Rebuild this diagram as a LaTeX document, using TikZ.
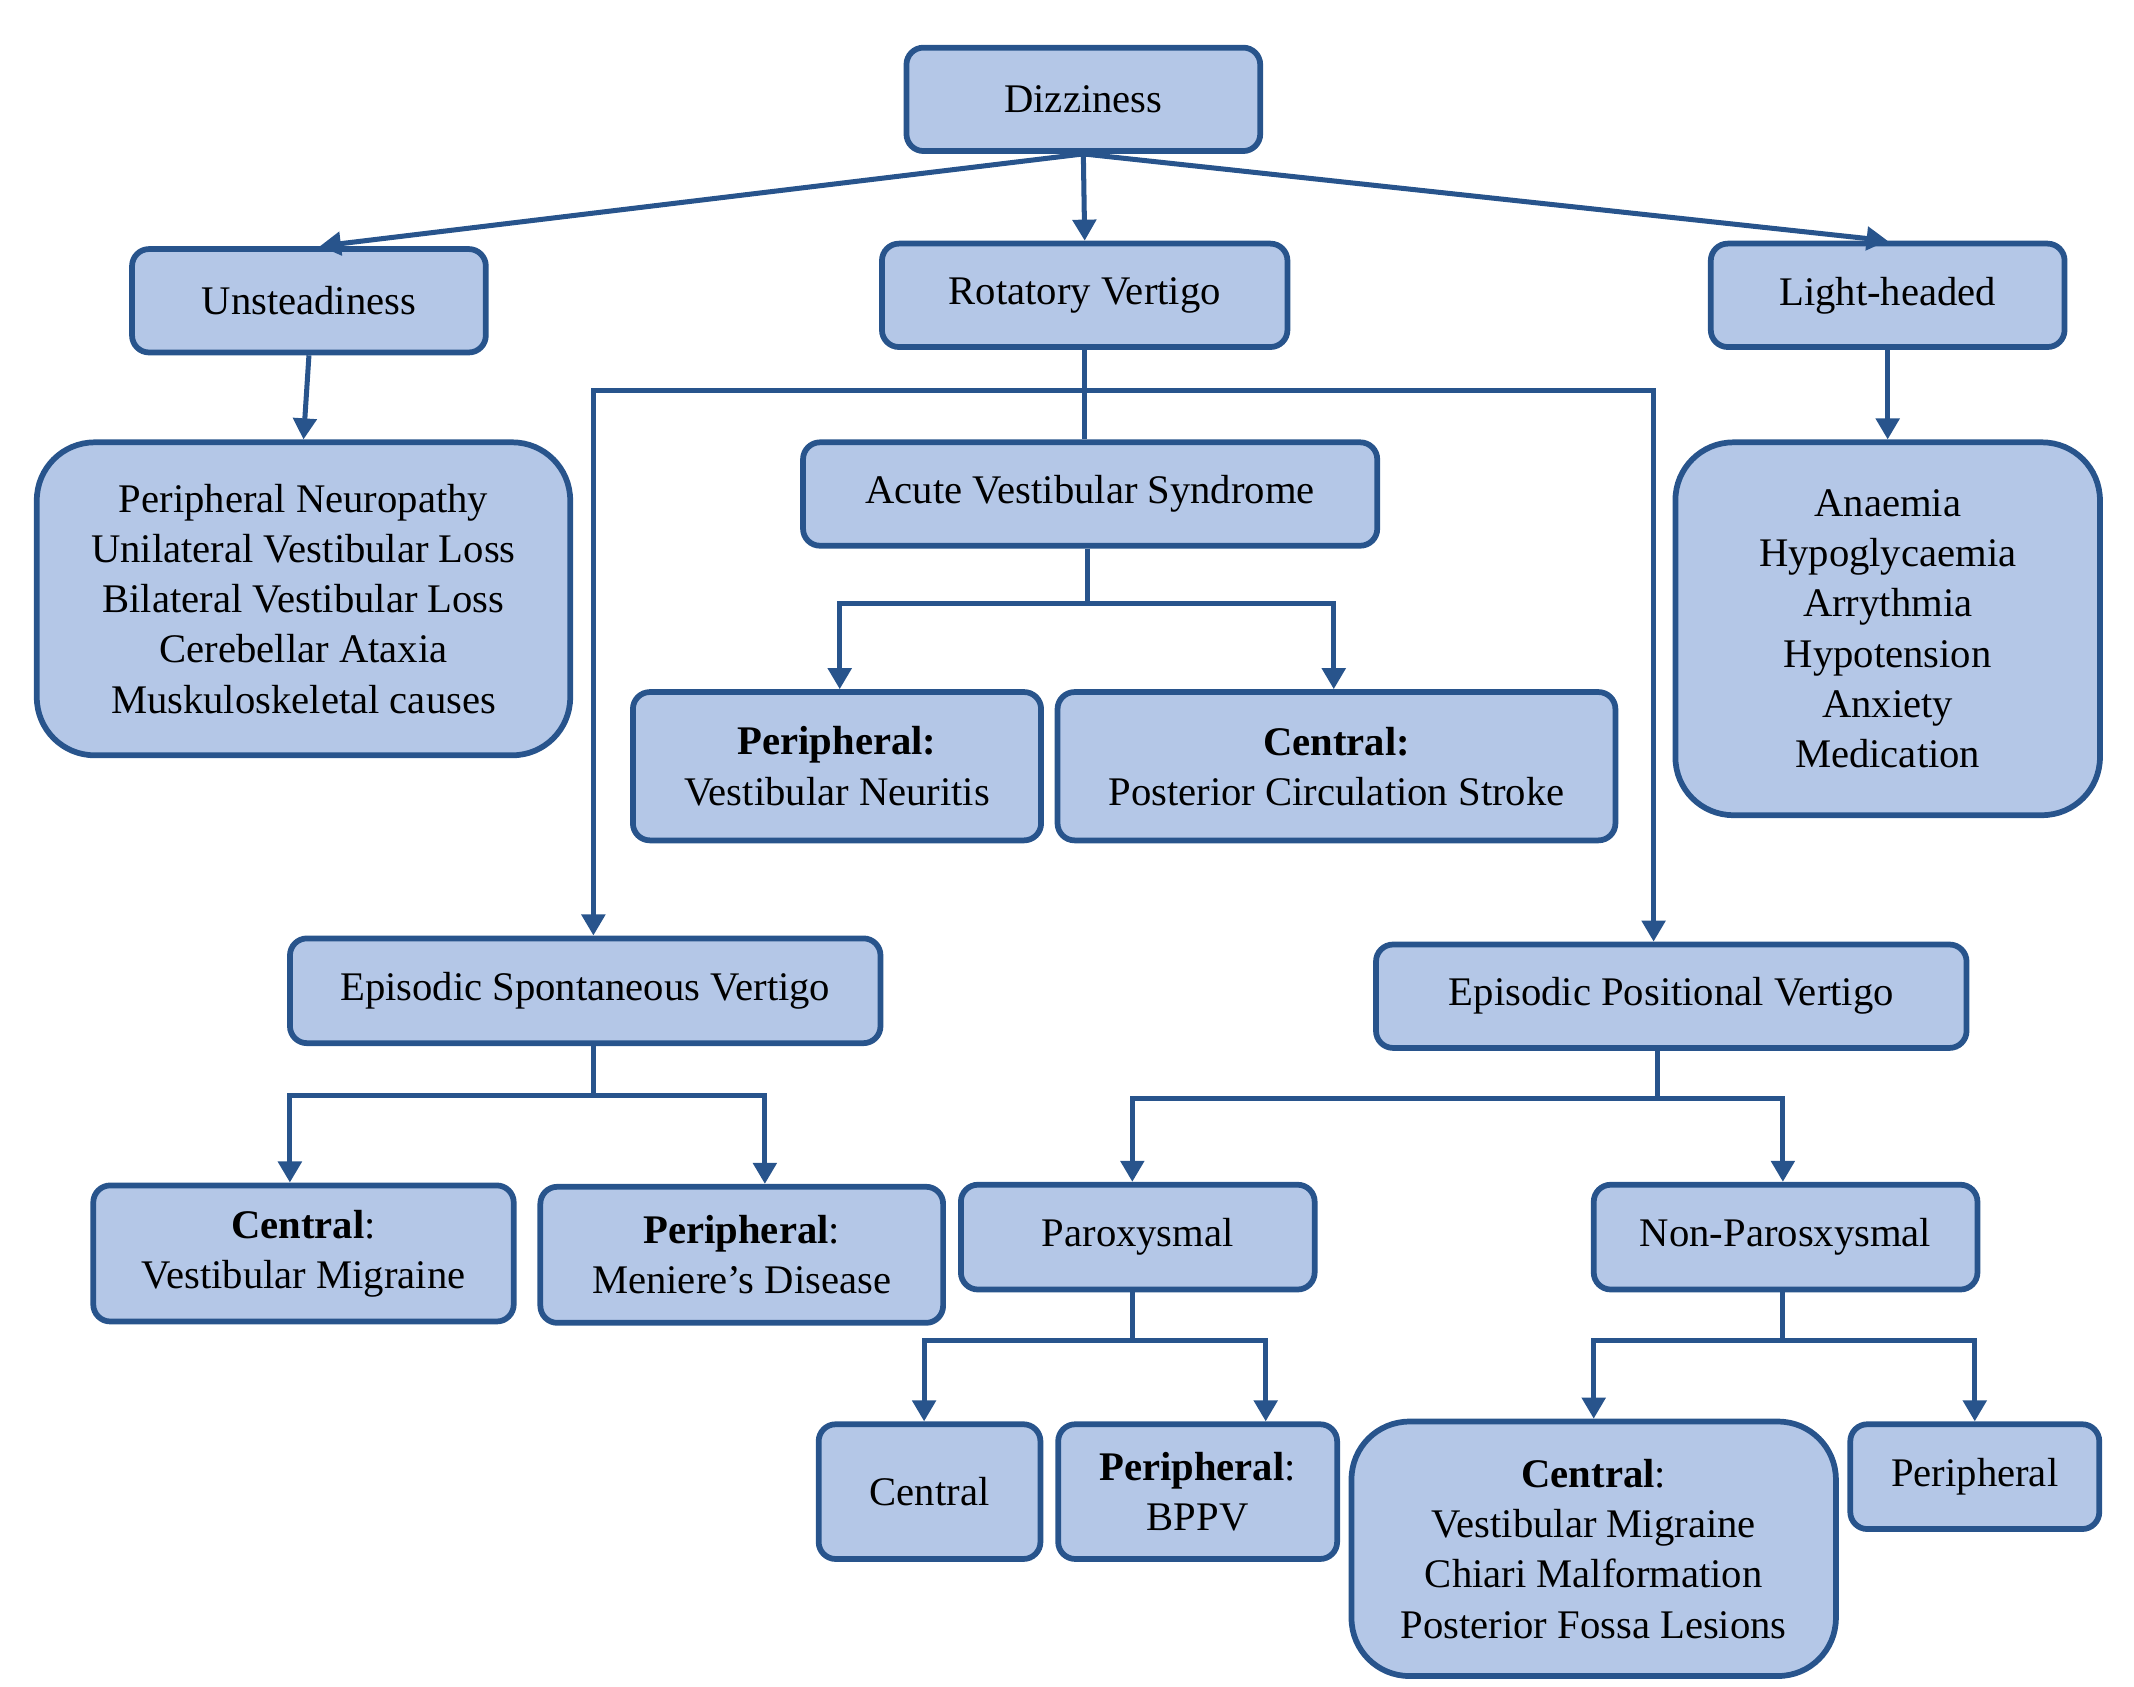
\documentclass[tikz,border=0pt]{standalone}
\usepackage{fontspec}
\setmainfont{Liberation Serif}
\usetikzlibrary{arrows.meta}

\definecolor{boxline}{RGB}{40,84,140}
\definecolor{boxfill}{RGB}{180,199,231}

\tikzset{
  box/.style={draw=boxline,fill=boxfill,line width=2.4pt,rounded corners=0.25cm,
    align=center,inner sep=2pt,font=\fontsize{17}{21}\selectfont},
  bigbox/.style={box,rounded corners=0.85cm},
  link/.style={draw=boxline,line width=2.1pt},
  arr/.style={link,-{Triangle[width=0.34cm,length=0.31cm]}},
}

\begin{document}
\begin{tikzpicture}[x=0.02cm,y=-0.02cm]
      \useasboundingbox (0,0) rectangle (1568,1239);

      % top row
      \node[box,minimum width=5.2cm,minimum height=1.52cm] (dz) at (796,73) {Dizziness};
      \node[box,minimum width=5.2cm,minimum height=1.52cm] (un) at (227,221) {Unsteadiness};
      \node[box,minimum width=5.96cm,minimum height=1.52cm] (rv) at (797,217) {Rotatory Vertigo};
      \node[box,minimum width=5.2cm,minimum height=1.52cm] (lh) at (1387,217) {Light-headed};

      \draw[arr] (dz.south) -- ([xshift=0.16cm]un.north);
      \draw[arr] (dz.south) -- (rv.north);
      \draw[arr] (dz.south) -- (lh.north);

      % side lists
      \node[bigbox,minimum width=7.84cm,minimum height=4.6cm] (unlist) at (223,440)
        {Peripheral Neuropathy\\Unilateral Vestibular Loss\\Bilateral Vestibular Loss\\Cerebellar Ataxia\\Muskuloskeletal causes};
      \node[bigbox,minimum width=6.24cm,minimum height=5.48cm] (lhlist) at (1387,462)
        {Anaemia\\Hypoglycaemia\\Arrythmia\\Hypotension\\Anxiety\\Medication};

      \draw[arr] (un.south) -- (unlist.north);
      \draw[arr] (lh.south) -- (lhlist.north);

      % acute vestibular syndrome
      \node[box,minimum width=8.44cm,minimum height=1.52cm] (avs) at (801,363) {Acute Vestibular Syndrome};
      \node[box,minimum width=6.0cm,minimum height=2.18cm] (vn) at (615,563)
        {\textbf{Peripheral:}\\Vestibular Neuritis};
      \node[box,minimum width=8.2cm,minimum height=2.18cm] (pcs) at (982,563)
        {\textbf{Central:}\\Posterior Circulation Stroke};

      \draw[link] (rv.south) -- (rv.south |- avs.north);
      \draw[arr] ([xshift=-0.04cm]avs.south) -- ++(0,40) -| ([xshift=0.04cm]vn.north);
      \draw[arr] ([xshift=-0.04cm]avs.south) -- ++(0,40) -| ([xshift=-0.04cm]pcs.north);

      % episodic vertigo
      \node[box,minimum width=8.68cm,minimum height=1.54cm] (esv) at (430,728) {Episodic Spontaneous Vertigo};
      \node[box,minimum width=8.68cm,minimum height=1.52cm] (epv) at (1228,732) {Episodic Positional Vertigo};

      \draw[arr] (rv.south) -- ++(0,30) -| ([xshift=0.12cm]esv.north);
      \draw[arr] (rv.south) -- ++(0,30) -| ([xshift=-0.26cm]epv.north);

      % spontaneous branch
      \node[box,minimum width=6.18cm,minimum height=2.0cm] (vm) at (223,921)
        {\textbf{Central}:\\Vestibular Migraine};
      \node[box,minimum width=5.92cm,minimum height=2.0cm] (md) at (545,922)
        {\textbf{Peripheral}:\\Meniere’s Disease};

      \draw[arr] ([xshift=0.12cm]esv.south) -- ++(0,36) -| ([xshift=-0.2cm]vm.north);
      \draw[arr] ([xshift=0.12cm]esv.south) -- ++(0,36) -| ([xshift=0.34cm]md.north);

      % positional branch
      \node[box,minimum width=5.2cm,minimum height=1.54cm] (px) at (836,909) {Paroxysmal};
      \node[box,minimum width=5.64cm,minimum height=1.54cm] (npx) at (1312,909) {Non-Parosxysmal};

      \draw[arr] ([xshift=-0.2cm]epv.south) -- ++(0,35) -| ([xshift=-0.08cm]px.north);
      \draw[arr] ([xshift=-0.2cm]epv.south) -- ++(0,35) -| ([xshift=-0.04cm]npx.north);

      % bottom row
      \node[box,minimum width=3.26cm,minimum height=1.98cm] (pc) at (683,1096) {Central};
      \node[box,minimum width=4.1cm,minimum height=1.98cm] (bp) at (880,1096)
        {\textbf{Peripheral}:\\BPPV};
      \node[bigbox,minimum width=7.12cm,minimum height=3.74cm] (nc) at (1171,1138)
        {\textbf{Central}:\\Vestibular Migraine\\Chiari Malformation\\Posterior Fossa Lesions};
      \node[box,minimum width=3.66cm,minimum height=1.54cm] (np) at (1451,1085) {Peripheral};

      \draw[arr] ([xshift=-0.08cm]px.south) -- ++(0,35) -| ([xshift=-0.08cm]pc.north);
      \draw[arr] ([xshift=-0.08cm]px.south) -- ++(0,35) -| ([xshift=1.0cm]bp.north);
      \draw[arr] ([xshift=-0.04cm]npx.south) -- ++(0,35) -| (nc.north);
      \draw[arr] ([xshift=-0.04cm]npx.south) -- ++(0,35) -| (np.north);
    \end{tikzpicture}
\end{document}
